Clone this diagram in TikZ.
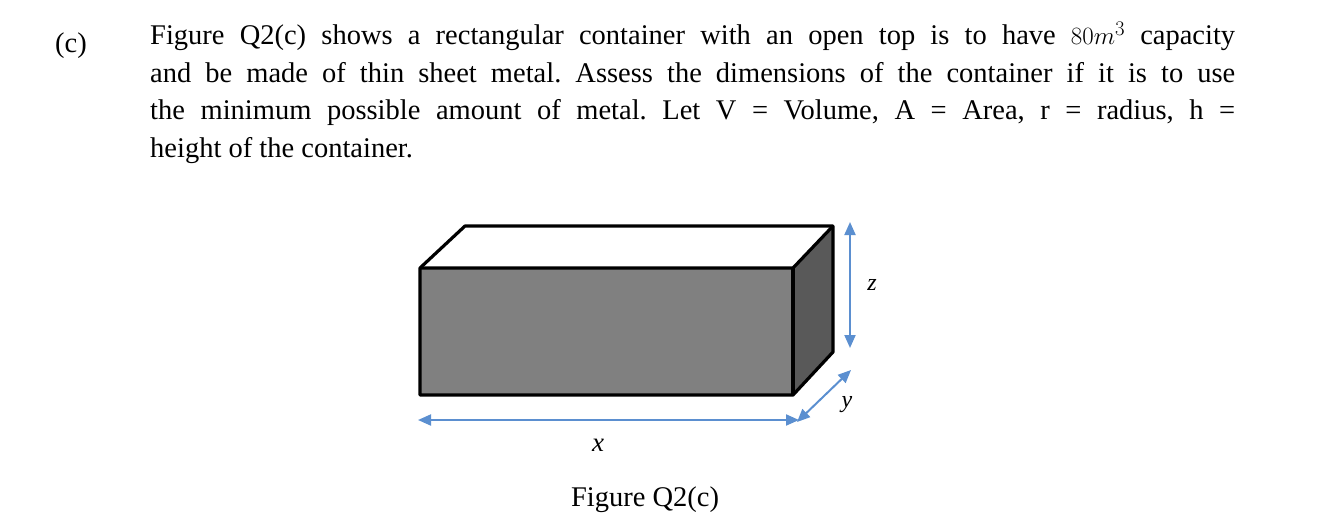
\documentclass[tikz,border=0pt]{standalone}
\usepackage{fontspec}
\setmainfont{Liberation Serif}
\usetikzlibrary{arrows.meta}
\definecolor{arr}{HTML}{5B8FD0}
\frenchspacing
\begin{document}
\begin{tikzpicture}[x=1pt,y=-1pt,
  dim/.style={arr,line width=2pt,{Triangle[length=13pt,width=11pt]}-{Triangle[length=13pt,width=11pt]}},
  face/.style={draw=black,line width=3.2pt,line join=round}]
\useasboundingbox (0,0) rectangle (1324,522);
\node[anchor=base west,font=\fontsize{28.5}{37.5}\selectfont,inner sep=0] (lbl) at (55,52) {(c)};
\node[anchor=north west,inner sep=0,text width=1085pt,align=justify,font=\fontsize{28.5}{37.5}\selectfont] (txt) at (150,22)
{Figure Q2(c) shows a rectangular container with an open top is to have $80m^3$ capacity\linebreak
and be made of thin sheet metal. Assess the dimensions of the container if it is to use\linebreak
the minimum possible amount of metal. Let V = Volume, A = Area, r = radius, h =\linebreak
height of the container.};
\fill[white] (420,268)--(465,226)--(833,226)--(793,268)--cycle;
\fill[black!50] (420,268) rectangle (793,395);
\fill[black!65] (793,268)--(833,226)--(833,352)--(793,395)--cycle;
\draw[face] (420,268)--(465,226)--(833,226)--(833,352)--(793,395)--(420,395)--cycle;
\draw[face] (420,268)--(793,268)--(833,226);
\draw[face] (793,268)--(793,395);
\coordinate (z1) at (850,222); \coordinate (z2) at (850,348);
\coordinate (y1) at (797,422); \coordinate (y2) at (851,370);
\coordinate (x1) at (418,420); \coordinate (x2) at (799,420);
\draw[dim] (z1)--(z2);
\draw[dim] (y1)--(y2);
\draw[dim] (x1)--(x2);
\node[font=\fontsize{24}{26}\selectfont\itshape] (zl) at (872,285) {z};
\node[font=\fontsize{24}{26}\selectfont\itshape] (yl) at (847,405) {y};
\node[font=\fontsize{27}{30}\selectfont\itshape] (xl) at (598,445) {x};
\node[font=\fontsize{28.5}{30}\selectfont] (cap) at (645,500) {Figure Q2(c)};
\end{tikzpicture}
\end{document}
